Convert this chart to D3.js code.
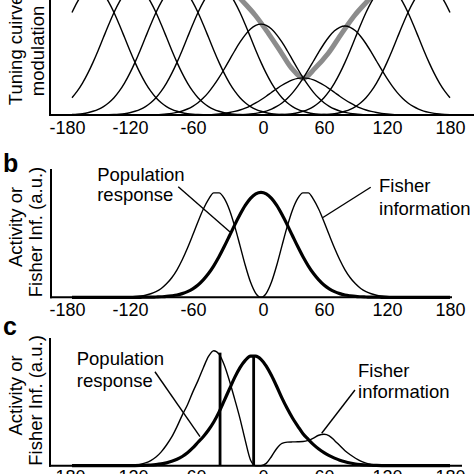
<!DOCTYPE html>
<html><head><meta charset="utf-8">
<script src="https://cdn.jsdelivr.net/npm/d3@7"></script>
<style>
html,body{margin:0;padding:0;background:#fff;overflow:hidden}
svg{display:block}
text{font-family:"Liberation Sans",Arial,Helvetica,sans-serif;fill:#000}
</style></head><body>
<svg id="chart" width="474" height="474"></svg>
<script>
// ---------------- data ----------------
const tickValues = [-180, -120, -60, 0, 60, 120, 180];
const tickLabels = ["-180", "-120", "-60", "0", "60", "120", "180"];

// panel a: tuning curve shape vs |angle - preferred| (deg)
const tuningOffsets = [0,5,10,15,20,25,30,35,40,45,50,55,60,65,70,75,80,85,90,95,100,105,110,115,120,125];
const tuningShape   = [1,.986,.946,.882,.801,.707,.607,.506,.411,.325,.249,.186,.135,.096,.066,.044,.029,.018,.011,.0067,.0039,.0022,.0012,.0006,.0003,0];
const preferred = [-160, -120, -80, -40, 0, 40, 80, 120, 160];
const gains     = [1, 1, 1, 1, 0.71, 0.29, 0.695, 1, 1];
// gain modulation profile (grey)
const gainAngles = [-35, -18.4, -5.7, 7.0, 19.7, 29.2, 40.3, 51.4, 64.1, 76.9, 89.5, 102.2, 118];
const gainValues = [1.05, 0.898, 0.781, 0.638, 0.482, 0.365, 0.287, 0.365, 0.482, 0.638, 0.781, 0.898, 1.05];

// panels b, c: values on the grid -180, -130..130 (step 5), 180
const popB = [0,
  0,0,0,0,.001,.001,.003,.005,.008,.014,.022,.035,.054,.081,.117,.166,.226,.300,.386,.483,.586,.690,.788,.875,.942,.985,
  1,
  .985,.942,.875,.788,.690,.586,.483,.386,.300,.226,.166,.117,.081,.054,.035,.022,.014,.008,.005,.003,.001,.001,0,0,0,0,
  0];
const fisherB = [0,
  .002,.004,.007,.012,.02,.034,.054,.084,.128,.186,.262,.358,.47,.593,.72,.838,.932,.995,.995,.942,.832,.675,.492,.305,.145,.038,
  0,
  .038,.145,.305,.492,.675,.832,.942,.995,.995,.932,.838,.72,.593,.47,.358,.262,.186,.128,.084,.054,.034,.02,.012,.007,.004,.002,
  0];
const popC = [0,
  0,.001,.001,.002,.004,.006,.010,.016,.025,.038,.056,.080,.112,.154,.204,.252,.310,.380,.466,.566,.668,.768,.853,.916,.953,.953,
  .925,
  .866,.784,.689,.588,.497,.415,.345,.278,.229,.183,.145,.114,.088,.066,.048,.034,.023,.015,.010,.006,.004,.002,.001,.001,0,0,
  0];
const fisherC = [0,
  0,.002,.005,.012,.025,.045,.075,.12,.18,.25,.34,.44,.53,.64,.74,.85,.95,1.0,.97,.876,.737,.577,.41,.22,.05,0,
  0,
  .02,.08,.15,.195,.205,.207,.208,.21,.22,.24,.265,.273,.26,.22,.175,.13,.095,.065,.04,.022,.01,.004,.001,0,0,0,
  0];
// decoded estimates in panel c (vertical bars)
const markerAngles = [-39, -7];
const markerValues = [0.983, 0.957];

// annotations (data coordinates)
const annB = [
  {lines: ["Population", "response"], at: [-156, 1.108, 0.917], ptr: [[-78.8, 1.053], [-29.5, 0.622]]},
  {lines: ["Fisher", "information"], at: [112.4, 1.003, 0.784], ptr: [[104.5, 1.048], [59, 0.76]]}
];
const annC = [
  {lines: ["Population", "response"], at: [-175.5, 0.876, 0.684], ptr: [[-101, 0.817], [-58.1, 0.252]]},
  {lines: ["Fisher", "information"], at: [92.4, 0.774, 0.589], ptr: [[89.5, 0.658], [57.8, 0.282]]}
];

// ---------------- drawing ----------------
const svg = d3.select("#chart");
const x = d3.scaleLinear().domain([-180, 180]).range([72, 450]);
const gridA = d3.range(-180, 181, 5);
const gridBC = [-180].concat(d3.range(-130, 131, 5), [180]);
const FS = 18.5;

function shapeAt(off) {
  const i = tuningOffsets.indexOf(Math.abs(off));
  return i < 0 ? 0 : tuningShape[i];
}

function frame(cfg) {
  const y = d3.scaleLinear().domain([0, 1]).range([cfg.base, cfg.base - cfg.unit]);
  const g = svg.append("g");
  g.append("line").attr("x1", cfg.yx).attr("x2", cfg.yx).attr("y1", cfg.yTop).attr("y2", cfg.base + 1)
    .attr("stroke", "#000").attr("stroke-width", 2);
  g.append("line").attr("x1", cfg.yx - 1).attr("x2", cfg.xEnd).attr("y1", cfg.base).attr("y2", cfg.base)
    .attr("stroke", "#000").attr("stroke-width", 2);
  const ax = g.append("g").attr("transform", `translate(0,${cfg.base})`)
    .call(d3.axisBottom(x).tickValues(tickValues).tickFormat((d, i) => tickLabels[i])
      .tickSize(0).tickPadding(cfg.pad));
  ax.select(".domain").remove();
  ax.attr("font-size", null).attr("font-family", null);
  ax.selectAll("text").style("font-size", "18px").attr("dx", d => d < 0 ? -5 : (d === 0 ? 2 : 0));
  cfg.ylab.forEach(l => {
    g.append("text").attr("transform", `translate(${l[1]},${l[2]}) rotate(-90)`)
      .attr("text-anchor", "middle").style("font-size", FS + "px").text(l[0]);
  });
  if (cfg.letter) {
    g.append("text").attr("x", 3).attr("y", cfg.letterY).style("font-size", "25px")
      .style("font-weight", "bold").text(cfg.letter);
  }
  return {g, y};
}

function lineGen(y, curve) {
  return d3.line().x(d => x(d[0])).y(d => y(d[1])).curve(curve || d3.curveMonotoneX);
}

function annotate(g, y, anns) {
  anns.forEach(a => {
    a.lines.forEach((t, i) => {
      g.append("text").attr("x", x(a.at[0])).attr("y", y(a.at[1 + i]))
        .style("font-size", FS + "px").text(t);
    });
    g.append("line").attr("x1", x(a.ptr[0][0])).attr("y1", y(a.ptr[0][1]))
      .attr("x2", x(a.ptr[1][0])).attr("y2", y(a.ptr[1][1]))
      .attr("stroke", "#000").attr("stroke-width", 1.4);
  });
}

// ---- panel a ----
{
  const {g, y} = frame({base: 115, unit: 128, yTop: -5, yx: 50, xEnd: 474, pad: 6.5,
    ylab: [["Tuning cuirve", 21.5, 50], ["modulation", 44, 51]]});
  g.append("path").datum(gainAngles.map((a, i) => [a, gainValues[i]]))
    .attr("d", lineGen(y, d3.curveCatmullRom.alpha(0.5)))
    .attr("fill", "none").attr("stroke", "#8c8c8c").attr("stroke-width", 5).attr("stroke-linejoin", "round");
  preferred.forEach((p, k) => {
    const pts = gridA.map(t => [t, gains[k] * shapeAt(t - p)]);
    g.append("path").datum(pts).attr("d", lineGen(y))
      .attr("fill", "none").attr("stroke", "#000").attr("stroke-width", 1.4);
  });
}

// ---- panel b ----
{
  const {g, y} = frame({base: 297.3, unit: 105, yTop: 169, yx: 51, xEnd: 452, pad: 5.5,
    letter: "b", letterY: 172,
    ylab: [["Activity or", 21.5, 227], ["Fisher Inf. (a.u.)", 42, 232]]});
  g.append("path").datum(gridBC.map((t, i) => [t, fisherB[i]])).attr("d", lineGen(y))
    .attr("fill", "none").attr("stroke", "#000").attr("stroke-width", 1.4);
  g.append("path").datum(gridBC.map((t, i) => [t, popB[i]])).attr("d", lineGen(y))
    .attr("fill", "none").attr("stroke", "#000").attr("stroke-width", 3.2);
  annotate(g, y, annB);
}

// ---- panel c ----
{
  const {g, y} = frame({base: 465.7, unit: 115, yTop: 338, yx: 50, xEnd: 462, pad: 5,
    letter: "c", letterY: 335,
    ylab: [["Activity or", 21.5, 395.4], ["Fisher Inf. (a.u.)", 42, 400.4]]});
  g.append("path").datum(gridBC.map((t, i) => [t, fisherC[i]])).attr("d", lineGen(y))
    .attr("fill", "none").attr("stroke", "#000").attr("stroke-width", 1.4);
  g.append("path").datum(gridBC.map((t, i) => [t, popC[i]])).attr("d", lineGen(y))
    .attr("fill", "none").attr("stroke", "#000").attr("stroke-width", 3.2);
  markerAngles.forEach((a, i) => {
    g.append("line").attr("x1", x(a)).attr("x2", x(a)).attr("y1", y(0)).attr("y2", y(markerValues[i]))
      .attr("stroke", "#000").attr("stroke-width", 2.8);
  });
  annotate(g, y, annC);
}
</script>
</body></html>
